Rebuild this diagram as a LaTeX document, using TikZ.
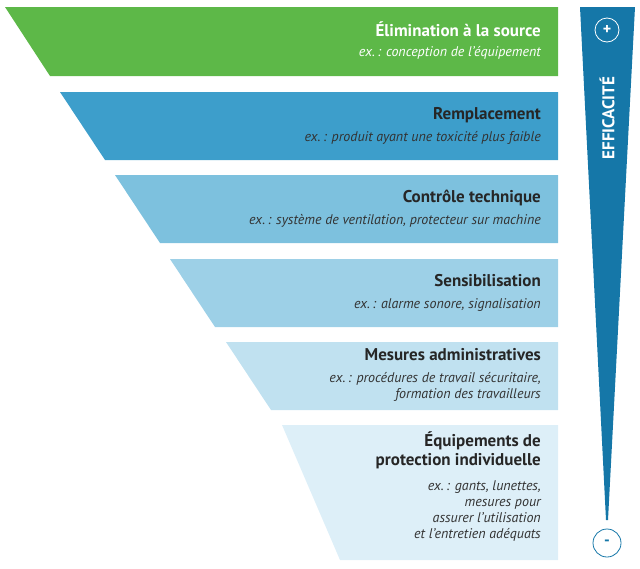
\documentclass[tikz,border=0pt]{standalone}
\usepackage{fontspec}
\setmainfont{PT Sans}
\definecolor{vert}{HTML}{5DB848}
\definecolor{bleu1}{HTML}{3D9ECB}
\definecolor{bleu2}{HTML}{7DC1DE}
\definecolor{bleu3}{HTML}{9DD0E7}
\definecolor{bleu4}{HTML}{C0E1F0}
\definecolor{bleu5}{HTML}{DDEFF8}
\definecolor{fleche}{HTML}{1577A8}
\tikzset{
  titre/.style={anchor=north east, align=right, font=\fontsize{17}{19}\selectfont\bfseries, text=black!85, inner sep=0pt},
  exemple/.style={anchor=north east, align=right, font=\fontsize{14}{16}\selectfont\itshape, text=black!80, inner sep=0pt},
}
\begin{document}
\begin{tikzpicture}[x=1pt,y=-1pt]
\useasboundingbox (0,0) rectangle (640,568);

\fill[vert] (5,7) -- (558,7) -- (558,76) -- (50,76) -- cycle;
\fill[bleu1] (60,92) -- (558,92) -- (558,160) -- (105,160) -- cycle;
\fill[bleu2] (115,175) -- (558,175) -- (558,243) -- (160,243) -- cycle;
\fill[bleu3] (170,259) -- (558,259) -- (558,327) -- (215,327) -- cycle;
\fill[bleu4] (226,342) -- (558,342) -- (558,410) -- (271,410) -- cycle;
\fill[bleu5] (282,425) -- (558,425) -- (558,560) -- (340,560) -- cycle;

\node[titre, text=white] (t1) at (541,22) {Élimination à la source};
\node[exemple, text=white] (e1) at (541,46) {ex.\,: conception de l’équipement};
\node[titre] (t2) at (541,107) {Remplacement};
\node[exemple] (e2) at (541,131) {ex.\,: produit ayant une toxicité plus faible};
\node[titre] (t3) at (541,190) {Contrôle technique};
\node[exemple] (e3) at (541,214) {ex.\,: système de ventilation, protecteur sur machine};
\node[titre] (t4) at (541,274) {Sensibilisation};
\node[exemple] (e4) at (541,298) {ex.\,: alarme sonore, signalisation};
\node[titre] (t5) at (541,348) {Mesures administratives};
\node[exemple] (e5) at (541,372) {ex.\,: procédures de travail sécuritaire,\\formation des travailleurs};
\node[titre] (t6) at (541,432) {Équipements de\\protection individuelle};
\node[exemple] (e6) at (541,480) {ex.\,: gants, lunettes,\\mesures pour\\assurer l’utilisation\\et l’entretien adéquats};

% efficacite
\fill[fleche] (580,7) -- (635,7) -- (608,520) -- (606,520) -- cycle;
\node[draw=white, thick, circle, minimum size=24pt, inner sep=0pt, text=white, font=\bfseries\fontsize{16}{16}\selectfont] (plus) at (607,30) {+};
\node[rotate=90, text=white, font=\bfseries\fontsize{17}{17}\selectfont, inner sep=0pt] (eff) at (607,118) {EFFICACITÉ};
\node[draw=fleche, fill=white, thick, circle, minimum size=28pt, inner sep=0pt, text=fleche, font=\bfseries\fontsize{16}{16}\selectfont] (moins) at (607,543) {-};
\end{tikzpicture}
\end{document}
